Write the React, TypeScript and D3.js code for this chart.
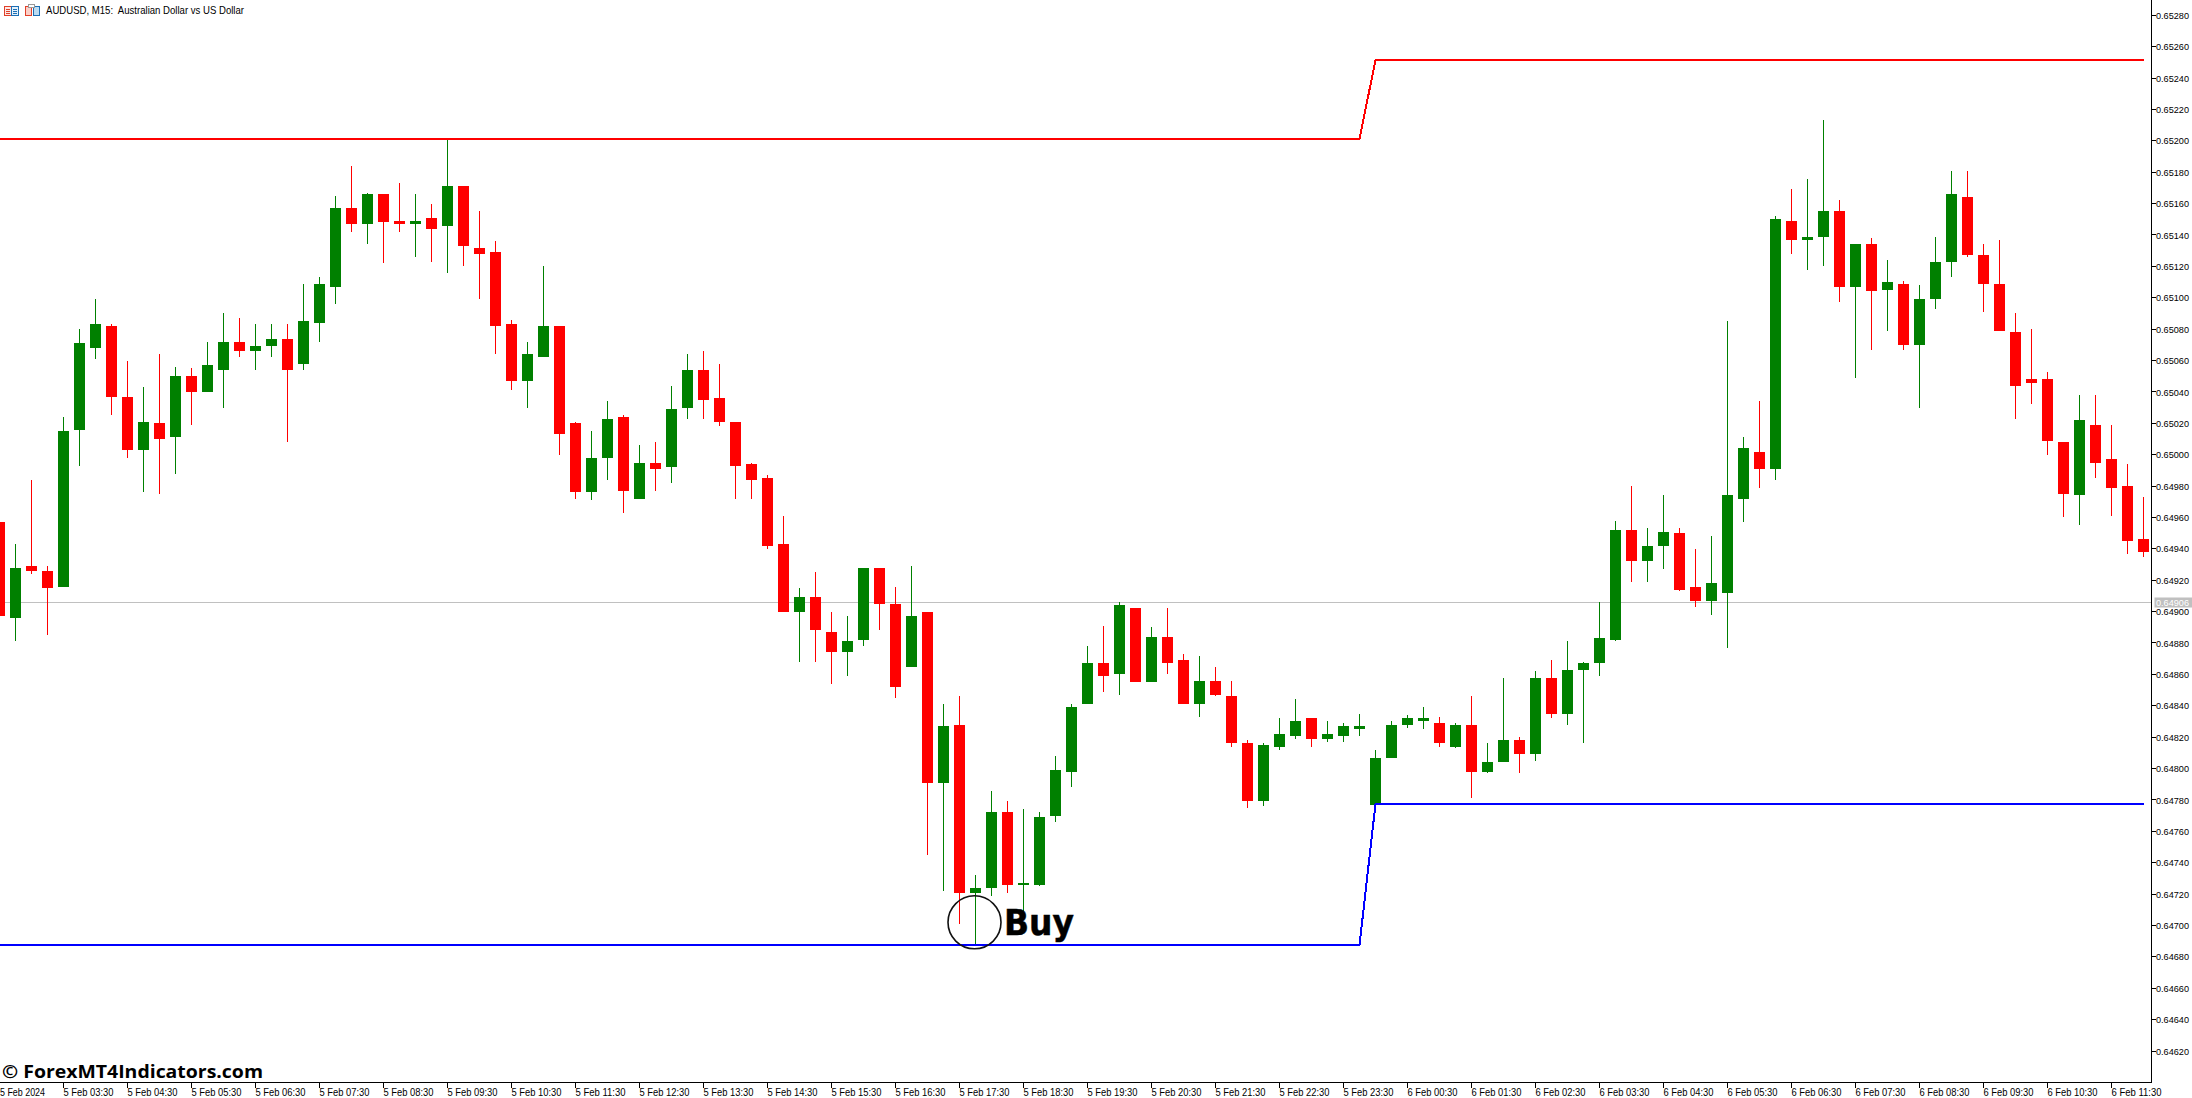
import * as d3 from "d3";

// prices are in points (1/100000), e.g. 64906 is 0.64906
const opens = [
  64957, 64896, 64929, 64926, 64916, 65016, 65068, 65082, 65037, 65003,
  65020, 65011, 65050, 65040, 65054, 65072, 65066, 65069, 65074, 65058,
  65084, 65107, 65157, 65147, 65166, 65149, 65147, 65151, 65146, 65171,
  65132, 65129, 65083, 65047, 65062, 65082, 65020, 64976, 64998, 65024,
  64972, 64995, 64992, 65030, 65054, 65036, 65021, 64994, 64985, 64943,
  64900, 64909, 64887, 64874, 64882, 64928, 64905, 64865, 64900, 64791,
  64828, 64721, 64724, 64772, 64726, 64726, 64770, 64798, 64841, 64867,
  64860, 64902, 64855, 64884, 64869, 64841, 64856, 64846, 64816, 64779,
  64814, 64821, 64832, 64819, 64821, 64825, 64777, 64807, 64828, 64830,
  64829, 64814, 64828, 64798, 64804, 64818, 64809, 64858, 64835, 64863,
  64867, 64882, 64952, 64932, 64942, 64950, 64916, 64907, 64912, 64972,
  65002, 64991, 65149, 65137, 65139, 65155, 65107, 65134, 65105, 65109,
  65070, 65099, 65123, 65164, 65127, 65109, 65078, 65048, 65048, 65008,
  64974, 65019, 64997, 64980, 64946,
];
const closes = [
  64897, 64928, 64926, 64915, 65015, 65071, 65083, 65037, 65003, 65021,
  65010, 65050, 65040, 65057, 65072, 65066, 65069, 65074, 65054, 65085,
  65109, 65157, 65147, 65166, 65148, 65147, 65149, 65144, 65171, 65133,
  65128, 65082, 65047, 65064, 65082, 65013, 64976, 64998, 65023, 64977,
  64995, 64991, 65029, 65054, 65035, 65021, 64993, 64984, 64942, 64900,
  64909, 64888, 64874, 64881, 64928, 64905, 64852, 64897, 64791, 64827,
  64721, 64724, 64772, 64726, 64727, 64769, 64799, 64839, 64867, 64859,
  64904, 64855, 64884, 64867, 64841, 64856, 64847, 64816, 64779, 64815,
  64822, 64830, 64819, 64822, 64827, 64827, 64807, 64828, 64832, 64832,
  64816, 64828, 64798, 64804, 64818, 64809, 64858, 64835, 64863, 64867,
  64883, 64952, 64932, 64942, 64951, 64914, 64907, 64918, 64974, 65004,
  64991, 65150, 65137, 65139, 65155, 65107, 65134, 65104, 65110, 65070,
  65099, 65123, 65166, 65127, 65109, 65079, 65044, 65046, 65009, 64975,
  65022, 64995, 64979, 64945, 64938,
];
const highs = [
  64957, 64943, 64984, 64929, 65024, 65080, 65099, 65083, 65060, 65043,
  65064, 65056, 65055, 65072, 65090, 65087, 65083, 65083, 65083, 65109,
  65113, 65165, 65184, 65167, 65166, 65173, 65166, 65160, 65201, 65171,
  65155, 65136, 65086, 65072, 65120, 65082, 65021, 65015, 65034, 65025,
  65006, 65008, 65044, 65064, 65066, 65058, 65021, 64995, 64987, 64961,
  64915, 64925, 64900, 64897, 64928, 64928, 64916, 64929, 64900, 64841,
  64846, 64732, 64786, 64779, 64774, 64772, 64808, 64841, 64878, 64891,
  64906, 64902, 64890, 64902, 64873, 64872, 64865, 64856, 64818, 64816,
  64832, 64844, 64832, 64830, 64829, 64835, 64812, 64830, 64834, 64839,
  64833, 64829, 64846, 64816, 64858, 64820, 64862, 64869, 64881, 64868,
  64906, 64958, 64980, 64953, 64974, 64953, 64940, 64948, 65085, 65011,
  65034, 65152, 65169, 65176, 65213, 65162, 65134, 65138, 65124, 65111,
  65108, 65139, 65181, 65181, 65134, 65137, 65090, 65080, 65053, 65008,
  65038, 65038, 65019, 64994, 64973,
];
const lows = [
  64897, 64881, 64924, 64885, 64916, 64993, 65061, 65025, 64998, 64976,
  64975, 64988, 65019, 65040, 65030, 65062, 65054, 65062, 65008, 65054,
  65072, 65096, 65142, 65134, 65122, 65142, 65126, 65123, 65116, 65120,
  65099, 65064, 65041, 65030, 65062, 65000, 64972, 64971, 64984, 64963,
  64972, 64977, 64982, 65023, 65023, 65018, 64972, 64972, 64940, 64900,
  64868, 64868, 64854, 64859, 64878, 64888, 64845, 64865, 64745, 64722,
  64701, 64687, 64719, 64721, 64709, 64725, 64766, 64788, 64841, 64849,
  64847, 64855, 64855, 64860, 64841, 64833, 64846, 64814, 64775, 64776,
  64812, 64819, 64814, 64817, 64817, 64821, 64777, 64807, 64826, 64825,
  64814, 64813, 64781, 64797, 64804, 64797, 64805, 64832, 64828, 64816,
  64859, 64881, 64919, 64919, 64927, 64913, 64903, 64898, 64877, 64957,
  64979, 64984, 65128, 65118, 65120, 65097, 65049, 65067, 65079, 65067,
  65030, 65093, 65113, 65126, 65091, 65079, 65023, 65032, 65000, 64960,
  64955, 64985, 64961, 64937, 64935,
];

// channel indicator: [bar, upper, lower] break points
const levelBars = [0, 85, 86, 134];
const upperLevels = [65201, 65201, 65251, 65251];
const lowerLevels = [64687, 64687, 64777, 64777];

const bidPrice = 64906;
const buyBar = 61;
const buyPrice = 64702;

const priceTicks = [
  65280, 65260, 65240, 65220, 65200, 65180, 65160, 65140, 65120, 65100, 65080,
  65060, 65040, 65020, 65000, 64980, 64960, 64940, 64920, 64900, 64880, 64860,
  64840, 64820, 64800, 64780, 64760, 64740, 64720, 64700, 64680, 64660, 64640,
  64620,
];

// one label every 4 bars, starting at bar 0
const timeLabels = [
  "5 Feb 2024", "5 Feb 03:30", "5 Feb 04:30", "5 Feb 05:30", "5 Feb 06:30",
  "5 Feb 07:30", "5 Feb 08:30", "5 Feb 09:30", "5 Feb 10:30", "5 Feb 11:30",
  "5 Feb 12:30", "5 Feb 13:30", "5 Feb 14:30", "5 Feb 15:30", "5 Feb 16:30",
  "5 Feb 17:30", "5 Feb 18:30", "5 Feb 19:30", "5 Feb 20:30", "5 Feb 21:30",
  "5 Feb 22:30", "5 Feb 23:30", "6 Feb 00:30", "6 Feb 01:30", "6 Feb 02:30",
  "6 Feb 03:30", "6 Feb 04:30", "6 Feb 05:30", "6 Feb 06:30", "6 Feb 07:30",
  "6 Feb 08:30", "6 Feb 09:30", "6 Feb 10:30", "6 Feb 11:30",
];

const width = 2192;
const height = 1098;
const axisX = 2151.5;
const axisY = 1082.5;
const bodyWidth = 11;
const green = "#008000";
const red = "#ff0000";
const labelFont = "'Liberation Sans', sans-serif";

const x = d3.scaleLinear([0, 134], [-0.5, 2143.5]);
const y = d3.scaleLinear([64620, 65280], [1051, 15.3]);
const snap = (v: number) => Math.round(v - 0.5) + 0.5;
const fmt = (p: number) => (p / 100000).toFixed(5);

const stepLine = d3
  .line<number>()
  .x((_, i) => x(levelBars[i]))
  .y((d) => Math.floor(y(d)));

function TitleIcons() {
  return (
    <g shapeRendering="crispEdges" fill="none">
      <rect x={4.5} y={6.5} width={7} height={9} fill="#fde8e4" stroke="#e0402a" />
      <rect x={11.5} y={6.5} width={7} height={9} fill="#e4f0fa" stroke="#1c6fb5" />
      <path d="M6 9.5h4M6 11.5h4M6 13.5h4" stroke="#e0402a" />
      <path d="M13 9.5h4M13 11.5h4M13 13.5h4" stroke="#1c6fb5" />
      <rect x={25.5} y={6.5} width={6} height={9} fill="#fbd0c8" stroke="#e0402a" />
      <rect x={33.5} y={6.5} width={6} height={9} fill="#bcdcf2" stroke="#1c6fb5" />
      <rect x={28.5} y={4.5} width={6} height={3} fill="#fff" stroke="#999" />
    </g>
  );
}

export default function App() {
  return (
    <svg
      width={width}
      height={height}
      style={{ position: "absolute", left: 0, top: 0, background: "#fff" }}
    >
      <line
        x1={0}
        x2={axisX}
        y1={snap(y(bidPrice))}
        y2={snap(y(bidPrice))}
        stroke="#c0c0c0"
        shapeRendering="crispEdges"
      />

      <g shapeRendering="crispEdges">
        {opens.map((open, i) => {
          const close = closes[i];
          const color = close >= open ? green : red;
          const top = Math.round(y(Math.max(open, close)));
          const bottom = Math.round(y(Math.min(open, close)));
          return (
            <g key={i} fill={color} stroke={color}>
              <line
                x1={x(i)}
                x2={x(i)}
                y1={Math.round(y(highs[i]))}
                y2={Math.round(y(lows[i]))}
                strokeWidth={1}
              />
              <rect
                x={x(i) - bodyWidth / 2}
                y={top}
                width={bodyWidth}
                height={Math.max(bottom - top, 2)}
                stroke="none"
              />
            </g>
          );
        })}
      </g>

      <g fill="none" strokeWidth={2} shapeRendering="crispEdges">
        <path d={stepLine(upperLevels) || undefined} stroke={red} />
        <path d={stepLine(lowerLevels) || undefined} stroke="#0000ff" />
      </g>

      {/* buy marker */}
      <circle
        cx={x(buyBar) - 1}
        cy={y(buyPrice)}
        r={26.5}
        fill="none"
        stroke="#111"
        strokeWidth={1.6}
      />
      <text
        x={x(buyBar) + 28.5}
        y={y(buyPrice) + 13}
        fontFamily="'DejaVu Sans', sans-serif"
        fontWeight="bold"
        fontSize={35}
        stroke="#000"
        strokeWidth={0.5}
        textLength={70}
        lengthAdjust="spacingAndGlyphs"
      >
        Buy
      </text>

      {/* axes */}
      <g shapeRendering="crispEdges" stroke="#000">
        <line x1={axisX} x2={axisX} y1={0} y2={axisY} />
        <line x1={0} x2={axisX} y1={axisY} y2={axisY} />
        {priceTicks.map((p) => (
          <line key={p} x1={axisX} x2={axisX + 4} y1={snap(y(p))} y2={snap(y(p))} />
        ))}
        {timeLabels.map((t, i) => (
          <line key={t} x1={x(i * 4)} x2={x(i * 4)} y1={axisY} y2={axisY + 5} />
        ))}
      </g>
      <g fontFamily={labelFont} fill="#000">
        {priceTicks.map((p) => (
          <text
            key={p}
            x={axisX + 4.5}
            y={y(p) + 3.6}
            fontSize={9.8}
            textLength={33}
            lengthAdjust="spacingAndGlyphs"
          >
            {fmt(p)}
          </text>
        ))}
        {timeLabels.map((t, i) => (
          <text
            key={t}
            x={i === 0 ? 0 : x(i * 4)}
            y={axisY + 13.5}
            fontSize={10.5}
            textLength={i === 0 ? 45 : 50}
            lengthAdjust="spacingAndGlyphs"
          >
            {t}
          </text>
        ))}
      </g>

      {/* bid label */}
      <rect
        x={axisX + 3}
        y={snap(y(bidPrice)) - 5}
        width={width - axisX - 3}
        height={10}
        fill="#c0c0c0"
      />
      <text
        x={axisX + 4.5}
        y={y(bidPrice) + 3.6}
        fontFamily={labelFont}
        fontSize={9.8}
        fill="#fff"
        textLength={33}
        lengthAdjust="spacingAndGlyphs"
      >
        {fmt(bidPrice)}
      </text>

      {/* title and watermark */}
      <TitleIcons />
      <text
        x={46}
        y={14}
        fontFamily={labelFont}
        fontSize={10.5}
        fill="#000"
        textLength={198}
        lengthAdjust="spacingAndGlyphs"
        style={{ whiteSpace: "pre" }}
      >
        AUDUSD, M15:  Australian Dollar vs US Dollar
      </text>
      <text
        x={2}
        y={1078}
        fontFamily="'Open Sans', sans-serif"
        fontWeight="bold"
        fontSize={18}
        textLength={261}
        lengthAdjust="spacingAndGlyphs"
      >
        © ForexMT4Indicators.com
      </text>
    </svg>
  );
}
